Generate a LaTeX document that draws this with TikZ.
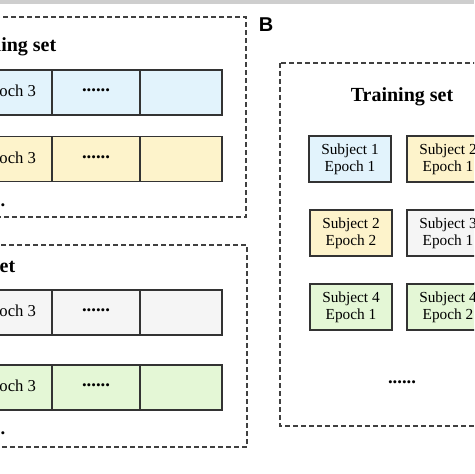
\documentclass[tikz,border=0pt]{standalone}
\usepackage{fontspec}
\setmainfont{Liberation Serif}
\newfontfamily\panelfont{Liberation Sans}
\usetikzlibrary{positioning}
\definecolor{cellblue}{RGB}{226,243,252}
\definecolor{cellyellow}{RGB}{253,243,203}
\definecolor{cellgray}{RGB}{245,245,245}
\definecolor{cellgreen}{RGB}{228,247,214}
\definecolor{rimgray}{RGB}{206,206,206}

\begin{document}
\begin{tikzpicture}
[x=0.75pt,y=-0.75pt,
frame/.style={draw=black!75,line width=1pt,dash pattern=on 3.6pt off 2.4pt},
cell/.style={draw=black!80,line width=0.9pt,outer sep=0pt,inner sep=0pt,
  minimum height=33.75pt,font=\fontsize{12.5}{14}\selectfont},
sbox/.style={draw=black!80,line width=0.9pt,inner sep=0pt,align=center,
  minimum width=61.5pt,minimum height=34.5pt,font=\fontsize{11.5}{13}\selectfont},
ttl/.style={font=\fontsize{15}{18}\selectfont\bfseries},
dots/.style={anchor=base,font=\fontsize{14}{18}\selectfont\bfseries}]
\useasboundingbox (0,0) rectangle (474,474);
\clip (0,0) rectangle (474,474);
\fill[rimgray] (0,0) rectangle (474,4);
%%
% A, training set
%%
\draw[frame] (-20,17) rectangle (246,217);
\node[ttl,anchor=base east] (trA) at (61,52) {Training set};
\node[cell,fill=cellblue,minimum width=65.25pt] (a1) at (8.5,92.5) {Epoch 3};
\node[cell,fill=cellblue,minimum width=66pt,right=0pt of a1] (a2) {};
\node[cell,fill=cellblue,minimum width=61.5pt,right=0pt of a2] (a3) {};
\node[dots] (ad) at (a2|-0,92) {......};
\node[cell,fill=cellyellow,minimum width=65.25pt] (b1) at (8.5,159) {Epoch 3};
\node[cell,fill=cellyellow,minimum width=66pt,right=0pt of b1] (b2) {};
\node[cell,fill=cellyellow,minimum width=61.5pt,right=0pt of b2] (b3) {};
\node[dots] (bd) at (b2|-0,158) {......};
\node[dots,anchor=base east] (trd) at (10,206) {......};
%%
% A, test set
%%
\draw[frame] (-20,245) rectangle (247,447);
\node[ttl,anchor=base east] (teA) at (20,272) {Test set};
\node[cell,fill=cellgray,minimum width=65.25pt] (c1) at (8.5,312.5) {Epoch 3};
\node[cell,fill=cellgray,minimum width=66pt,right=0pt of c1] (c2) {};
\node[cell,fill=cellgray,minimum width=61.5pt,right=0pt of c2] (c3) {};
\node[dots] (cd) at (c2|-0,311) {......};
\node[cell,fill=cellgreen,minimum width=65.25pt] (d1) at (8.5,387.5) {Epoch 3};
\node[cell,fill=cellgreen,minimum width=66pt,right=0pt of d1] (d2) {};
\node[cell,fill=cellgreen,minimum width=61.5pt,right=0pt of d2] (d3) {};
\node[dots] (dd) at (d2|-0,386) {......};
\node[dots,anchor=base east] (ted) at (10,434) {......};
%%
% B
%%
\node[font=\panelfont\fontsize{15}{17}\selectfont\bfseries] (B) at (266,25) {B};
\draw[frame] (280,63) rectangle (500,426);
\node[ttl] (trB) at (402,97) {Training set};
\node[sbox,fill=cellblue] (s11) at (350,159) {Subject 1\\Epoch 1};
\node[sbox,fill=cellyellow] (s12) at (448,159) {Subject 2\\Epoch 1};
\node[sbox,fill=cellyellow] (s21) at (351,233) {Subject 2\\Epoch 2};
\node[sbox,fill=cellgray] (s22) at (448,233) {Subject 3\\Epoch 1};
\node[sbox,fill=cellgreen] (s31) at (351,307) {Subject 4\\Epoch 1};
\node[sbox,fill=cellgreen] (s32) at (448,307) {Subject 4\\Epoch 2};
\node[dots] (sd) at (402,383) {......};
\end{tikzpicture}
\end{document}
